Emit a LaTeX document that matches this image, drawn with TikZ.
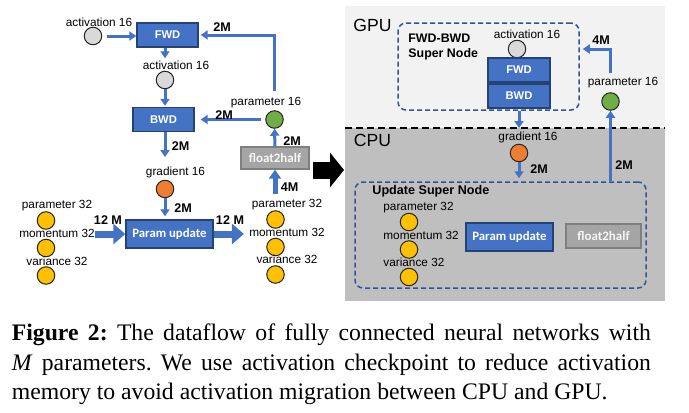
\documentclass[tikz,border=0pt]{standalone}
\usepackage{fontspec}
\setmainfont{Liberation Sans}
\newfontfamily\capfont{Liberation Serif}
\newfontfamily\carlito{Carlito}
\usetikzlibrary{arrows.meta, positioning}
\definecolor{boxblue}{HTML}{4472C4}
\definecolor{boxedge}{HTML}{2F528F}
\definecolor{dashblue}{HTML}{2F5597}
\definecolor{gpubg}{HTML}{F2F2F2}
\definecolor{cpubg}{HTML}{BFBFBF}
\definecolor{actgray}{HTML}{D9D9D9}
\definecolor{paramgreen}{HTML}{70AD47}
\definecolor{gradorange}{HTML}{ED7D31}
\definecolor{statyellow}{HTML}{FFC000}
\definecolor{fhgray}{HTML}{A5A5A5}
\definecolor{fhedge}{HTML}{7F7F7F}
\frenchspacing
\begin{document}
\begin{tikzpicture}[x=0.5pt, y=-0.5pt,
    opbox/.style={draw=boxedge!80!black, line width=0.7pt, fill=boxblue, text=white, font=\fontsize{5.6}{6}\selectfont\bfseries, minimum width=31pt, minimum height=12pt, inner sep=0pt},
    pubox/.style={opbox, font=\carlito\fontsize{6.4}{7}\selectfont\bfseries, minimum width=43.5pt, minimum height=14pt},
    fhbox/.style={draw=fhedge, line width=0.7pt, fill=fhgray, text=gray!6, font=\carlito\fontsize{6.5}{7}\selectfont\bfseries, minimum width=34pt, minimum height=11pt, inner sep=0pt},
    tensor/.style={circle, draw=black!85, line width=0.5pt, minimum size=8.75pt, inner sep=0pt},
    tlabel/.style={font=\fontsize{5.9}{7}\selectfont, inner sep=0pt},
    amount/.style={font=\fontsize{6.3}{7}\selectfont\bfseries, inner sep=0pt},
    region/.style={font=\fontsize{8.8}{10}\selectfont, inner sep=0pt},
    super/.style={draw=dashblue, line width=0.75pt, dash pattern=on 2.5pt off 1.5pt, rounded corners=4pt, inner sep=0pt},
    flow/.style={draw=boxblue, line width=1.5pt, -{Triangle[width=4.5pt, length=3.5pt]}},
    bigflow/.style={draw=boxblue, line width=2.5pt, -{Triangle[width=6pt, length=4.5pt]}},
    fatflow/.style={draw=boxblue, line width=3.5pt, -{Triangle[width=10pt, length=6pt]}},
    blackflow/.style={draw=black, line width=8.5pt, -{Triangle[width=17pt, length=7pt]}}]
    \useasboundingbox (0,0) rectangle (689,412);

    \node[tlabel] (act1lbl) at (99,22) {activation 16};
    \node[tensor, fill=actgray] (act1) at (93,36) {};
    \node[opbox, minimum width=30.5pt] (fwd1) at (167.5,35) {FWD};
    \node[tlabel] (act2lbl) at (176,65) {activation 16};
    \node[tensor, fill=actgray] (act2) at (165,80) {};
    \node[opbox, minimum width=30.5pt] (bwd1) at (163.5,119.5) {BWD};
    \node[tlabel] (p16lbl) at (266,103) {parameter 16};
    \node[tensor, fill=paramgreen] (p16) at (274.5,119.5) {};
    \node[tlabel] (grad1lbl) at (175.5,172) {gradient 16};
    \node[tensor, fill=gradorange] (grad1) at (165,189) {};
    \node[pubox] (pu1) at (169.5,234) {Param update};
    \node[fhbox] (fh1) at (275,158) {float2half};
    \foreach \nm/\txt [count=\k] in {par/parameter 32, mom/momentum 32, var/variance 32} {
        \node[tlabel] (\nm1lbl) at (57, 178.5+27.5*\k) {\txt};
        \node[tensor, fill=statyellow] (\nm1) at (46, 193+27.5*\k) {};
        \node[tlabel] (\nm2lbl) at (287, 177+27.5*\k) {\txt};
        \node[tensor, fill=statyellow] (\nm2) at (275.5, 192+27.5*\k) {};
    };

    \draw[flow, shorten <=2.5pt] (act1) -- (act1 -| fwd1.west);
    \draw[flow, shorten >=1pt] (fwd1.south -| act2) -- (act2lbl.north -| act2);
    \draw[flow, shorten >=0.5pt] (act2) -- (bwd1.north -| act2);
    \draw[flow, shorten <=2pt, shorten >=3pt] (p16) -- (p16 -| bwd1.east);
    \draw[flow, shorten >=1pt] ([yshift=3pt]p16lbl.north -| p16) |- (fwd1.east);
    \draw[flow, shorten >=4.5pt] (bwd1.south -| grad1) -- (grad1lbl.north -| grad1);
    \draw[flow, shorten >=1.5pt] (grad1) -- (pu1.north -| grad1);
    \draw[fatflow] (mom1lbl.east |- pu1) -- (pu1.west);
    \draw[fatflow, shorten >=2.5pt] (pu1.east) -- (pu1 -| mom2lbl.west);
    \draw[bigflow] ([yshift=2.5pt]par2lbl.north -| fh1) -- (fh1.south);
    \draw[flow] (fh1) -- (p16);

    \node[amount] (m1) at (222,27) {2M};
    \node[amount] (m2) at (224,115) {2M};
    \node[amount] (m3) at (180.5,146) {2M};
    \node[amount] (m4) at (183,208) {2M};
    \node[amount] (m5) at (108,220) {12 M};
    \node[amount] (m6) at (230,220) {12 M};
    \node[amount] (m7) at (289.5,187.5) {4M};
    \node[amount] (m8) at (292,141) {2M};

    \fill[gpubg] (345,6) rectangle (665,128);
    \fill[cpubg] (345,128) rectangle (665,301);
    \coordinate (splitL) at (345,128);
    \coordinate (splitR) at (665,128);
    \draw[line width=1pt, dash pattern=on 3.5pt off 2pt] (splitL) -- (splitR);
    \coordinate (bigtail) at (313,170);
    \coordinate (bighead) at (344,170);
    \draw[blackflow] (bigtail) -- (bighead);

    \node[region] (gpulbl) at (372.5,25) {GPU};
    \node[region] (cpulbl) at (372.5,140.5) {CPU};
    \node[super, minimum width=90.5pt, minimum height=43.5pt] (fbsuper) at (488.5,66.5) {};
    \node[anchor=north west, align=left, inner sep=0pt, font=\fontsize{6.2}{7.5}\selectfont\bfseries] (fblbl) at (408,33.5) {FWD-BWD\\Super Node};
    \node[tlabel] (act3lbl) at (527,34) {activation 16};
    \node[tensor, fill=actgray] (act3) at (517,49) {};
    \node[opbox] (fwd2) at (519,70) {FWD};
    \node[opbox] (bwd2) at (519,96) {BWD};
    \node[tlabel] (p16rlbl) at (623,83) {parameter 16};
    \node[tensor, fill=paramgreen] (p16r) at (610.5,101.5) {};
    \node[tlabel] (grad2lbl) at (528,137) {gradient 16};
    \node[tensor, fill=gradorange] (grad2) at (519,153) {};
    \node[super, minimum width=145.5pt, minimum height=53pt] (usuper) at (500.5,235) {};
    \node[anchor=west, inner sep=0pt, font=\fontsize{6.3}{7.5}\selectfont\bfseries] (ulbl) at (372,191) {Update Super Node};
    \foreach \nm/\txt [count=\k] in {par/parameter 32, mom/momentum 32, var/variance 32} {
        \node[tlabel, anchor=west] (\nm3lbl) at (383, 180+27.5*\k) {\txt};
        \node[tensor, fill=statyellow] (\nm3) at (409, 194.5+27.5*\k) {};
    };
    \node[pubox] (pu2) at (509.5,237) {Param update};
    \node[fhbox, minimum width=37.5pt, minimum height=12pt] (fh2) at (603.5,236) {float2half};

    \draw[flow] (fbsuper.south -| bwd2) -- (bwd2 |- splitL);
    \draw[flow, shorten >=1.5pt] ([yshift=2pt]p16rlbl.north -| p16r) |- (act3 -| fbsuper.east);
    \draw[flow] (usuper.north -| p16r) -- (p16r);
    \draw[flow, shorten >=1.5pt] (grad2) -- (grad2 |- usuper.north);

    \node[amount] (m9) at (601,40) {4M};
    \node[amount] (m10) at (624,165) {2M};
    \node[amount] (m11) at (539,169) {2M};

    \node[anchor=north west, inner sep=0pt, text width=319.5pt, align=justify, font=\capfont\fontsize{11.85}{14.6}\selectfont] (caption) at (11.5,323.8) {\textbf{Figure 2:} The dataflow of fully connected neural networks with\linebreak \textit{M} parameters. We use activation checkpoint to reduce activation\linebreak memory to avoid activation migration between CPU and GPU.};
\end{tikzpicture}
\end{document}
